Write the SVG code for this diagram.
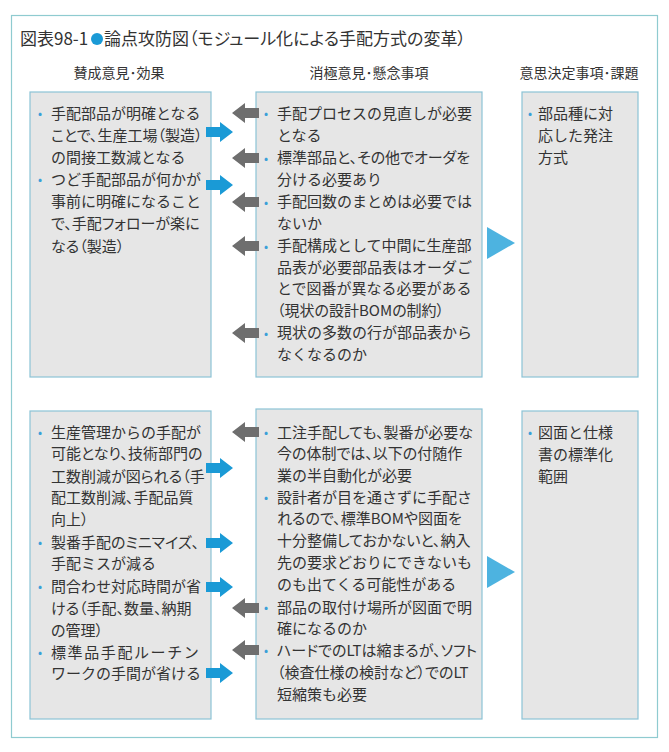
<svg xmlns="http://www.w3.org/2000/svg" width="669" height="752" viewBox="0 0 669 752">
<defs>
<style>
text{font-family:"Noto Sans CJK JP","Noto Sans",sans-serif;fill:#333;}
.t{font-size:15px;}
.p{font-feature-settings:"palt";}
.b{fill:#3aa0d8;font-size:12px;}
.h{font-size:14px;text-anchor:middle;}
.box{fill:#e6e6e6;stroke:#8cc3d6;stroke-width:1.2;}
.g{fill:#6e6e6e;}
.bl{fill:#1a9ad6;}
.tri{fill:#4db3e0;}
</style>
<path id="la" d="M0,0 l13,-10 v5 h14 v10 h-14 v5 z"/>
<path id="ra" d="M0,0 l-13,-10 v5 h-14 v10 h14 v5 z"/>
</defs>
<rect x="0" y="0" width="669" height="752" fill="#fff"/>
<rect x="11.5" y="15.5" width="646" height="722" fill="none" stroke="#8fcbd0" stroke-width="1.2"/>
<g id="title">
<text x="20" y="45" style="font-size:17px">図表98-1</text>
<circle cx="97" cy="39" r="6" fill="#1a9ad6"/>
<text x="104" y="45" class="p" style="font-size:17px">論点攻防図（モジュール化による手配方式の変革）</text>
</g>
<g id="headers">
<text class="h p" x="119" y="78">賛成意見･効果</text>
<text class="h p" x="369" y="78">消極意見･懸念事項</text>
<text class="h p" x="579" y="78">意思決定事項･課題</text>
</g>
<g id="top-pro">
<rect class="box" x="30" y="92" width="181" height="285"/>
<text class="b" x="38" y="118">•</text><text class="b" x="38" y="184">•</text>
<text class="t" x="51" y="119">手配部品が明確となる</text>
<text class="t p" x="51" y="141">ことで、生産工場（製造）</text>
<text class="t" x="51" y="163">の間接工数減となる</text>
<text class="t" x="51" y="185">つど手配部品が何かが</text>
<text class="t" x="51" y="207">事前に明確になること</text>
<text class="t p" x="51" y="229">で、手配フォローが楽に</text>
<text class="t p" x="51" y="252">なる（製造）</text>
</g>
<g id="top-con">
<rect class="box" x="256" y="92" width="226" height="285"/>
<text class="b" x="264" y="118">•</text><text class="b" x="264" y="163">•</text><text class="b" x="264" y="207">•</text><text class="b" x="264" y="251">•</text><text class="b" x="264" y="338">•</text>
<text class="t" x="277" y="119">手配プロセスの見直しが必要</text>
<text class="t" x="277" y="141">となる</text>
<text class="t p" x="277" y="163">標準部品と、その他でオーダを</text>
<text class="t" x="277" y="185">分ける必要あり</text>
<text class="t" x="277" y="207">手配回数のまとめは必要では</text>
<text class="t" x="277" y="229">ないか</text>
<text class="t" x="277" y="251">手配構成として中間に生産部</text>
<text class="t" x="277" y="273">品表が必要部品表はオーダご</text>
<text class="t" x="277" y="294">とで図番が異なる必要がある</text>
<text class="t p" x="277" y="316">（現状の設計BOMの制約）</text>
<text class="t" x="277" y="338">現状の多数の行が部品表から</text>
<text class="t" x="277" y="360">なくなるのか</text>
</g>
<g id="top-decision">
<rect class="box" x="522" y="92" width="116" height="285"/>
<text class="b" x="528" y="118">•</text>
<text class="t" x="538" y="119">部品種に対</text>
<text class="t" x="538" y="141">応した発注</text>
<text class="t" x="538" y="163">方式</text>
</g>
<g id="bottom-pro">
<rect class="box" x="30" y="411" width="181" height="308"/>
<text class="b" x="38" y="437">•</text><text class="b" x="38" y="547">•</text><text class="b" x="38" y="591">•</text><text class="b" x="38" y="657">•</text>
<text class="t" x="51" y="438">生産管理からの手配が</text>
<text class="t p" x="51" y="459">可能となり、技術部門の</text>
<text class="t p" x="51" y="482">工数削減が図られる（手</text>
<text class="t p" x="51" y="503">配工数削減、手配品質</text>
<text class="t p" x="51" y="525">向上）</text>
<text class="t p" x="51" y="548">製番手配のミニマイズ、</text>
<text class="t" x="51" y="569">手配ミスが減る</text>
<text class="t" x="51" y="592">問合わせ対応時間が省</text>
<text class="t p" x="51" y="614">ける（手配、数量、納期</text>
<text class="t p" x="51" y="636">の管理）</text>
<text class="t" x="51" y="658" style="letter-spacing:1.6px">標準品手配ルーチン</text>
<text class="t" x="51" y="679">ワークの手間が省ける</text>
</g>
<g id="bottom-con">
<rect class="box" x="256" y="409" width="226" height="310"/>
<text class="b" x="264" y="437">•</text><text class="b" x="264" y="502">•</text><text class="b" x="264" y="612">•</text><text class="b" x="264" y="655">•</text>
<text class="t p" x="277" y="438">工注手配しても、製番が必要な</text>
<text class="t p" x="277" y="459">今の体制では、以下の付随作</text>
<text class="t" x="277" y="481">業の半自動化が必要</text>
<text class="t" x="277" y="503">設計者が目を通さずに手配さ</text>
<text class="t p" x="277" y="524">れるので、標準BOMや図面を</text>
<text class="t p" x="277" y="546">十分整備しておかないと、納入</text>
<text class="t" x="277" y="568">先の要求どおりにできないも</text>
<text class="t" x="277" y="590">のも出てくる可能性がある</text>
<text class="t" x="277" y="613">部品の取付け場所が図面で明</text>
<text class="t" x="277" y="634">確になるのか</text>
<text class="t p" x="277" y="656">ハードでのLTは縮まるが、ソフト</text>
<text class="t p" x="277" y="678">（検査仕様の検討など）でのLT</text>
<text class="t" x="277" y="700">短縮策も必要</text>
</g>
<g id="bottom-decision">
<rect class="box" x="522" y="411" width="116" height="308"/>
<text class="b" x="528" y="437">•</text>
<text class="t" x="538" y="438">図面と仕様</text>
<text class="t" x="538" y="460">書の標準化</text>
<text class="t" x="538" y="482">範囲</text>
</g>
<g id="connectors">
<use href="#la" class="g" x="232" y="113"/>
<use href="#la" class="g" x="232" y="158"/>
<use href="#la" class="g" x="232" y="202"/>
<use href="#la" class="g" x="232" y="246"/>
<use href="#la" class="g" x="232" y="333"/>
<use href="#ra" class="bl" x="233" y="132"/>
<use href="#ra" class="bl" x="233" y="185"/>
<polygon class="tri" points="487,227 515,243 487,259"/>
<use href="#la" class="g" x="232" y="432"/>
<use href="#la" class="g" x="232" y="608"/>
<use href="#la" class="g" x="232" y="650"/>
<use href="#ra" class="bl" x="233" y="468"/>
<use href="#ra" class="bl" x="233" y="543"/>
<use href="#ra" class="bl" x="233" y="587"/>
<use href="#ra" class="bl" x="233" y="673"/>
<polygon class="tri" points="487,556 515,572 487,588"/>
</g>
</svg>
